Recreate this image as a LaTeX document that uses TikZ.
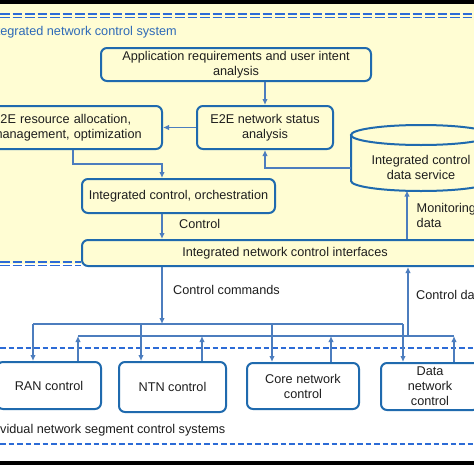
\documentclass[tikz,border=0pt]{standalone}
\usepackage{fontspec}
\setmainfont{Liberation Sans}
\usetikzlibrary{arrows.meta,calc}
\definecolor{ylw}{HTML}{FFFDD3}
\definecolor{bord}{HTML}{1F6AAE}
\definecolor{connc}{HTML}{4C7DBE}
\definecolor{dashc}{HTML}{2C6BD6}
\definecolor{ttl}{HTML}{2E6AB8}
\definecolor{txt}{HTML}{1E1E1E}
\begin{document}
\begin{tikzpicture}[x=1pt,y=-1pt,
  every node/.style={font=\fontsize{12.7}{15}\selectfont, text=txt},
  box/.style={draw=bord, line width=2pt, rounded corners=6pt, fill=ylw, align=center, inner sep=0pt},
  sbox/.style={box, fill=white},
  lbl/.style={anchor=west, inner sep=0pt, align=left},
  wire/.style={draw=connc, line width=1.5pt},
  arr/.style={wire, -{Latex[length=6pt,width=5.5pt]}},
  ddash/.style={draw=dashc, line width=1.4pt, dash pattern=on 9.5pt off 3pt},
  sdash/.style={draw=dashc, line width=1.8pt, dash pattern=on 5.5pt off 3pt}]
\useasboundingbox (0,0) rectangle (474,474);
\clip (0,0) rectangle (474,474);
\fill[white] (0,0) rectangle (474,474);
\fill[ylw] (0,3.5) rectangle (474,264);
\fill[black] (0,0) rectangle (474,3.5);
\fill[black] (0,461) rectangle (474,464.5);
% top double dashed border
\draw[ddash] (0,14) -- (474,14);
\draw[ddash] (0,17.5) -- (474,17.5);
% single dashed lines
\draw[sdash] (0,348) -- (474,348);
\draw[sdash] (0,444) -- (474,444);
% titles
\node[lbl, text=ttl] (title) at (-14,32) {Integrated network control system};
\node[lbl] (segtitle) at (-20.5,430) {Individual network segment control systems};
% upper boxes
\node[box, minimum width=270pt, minimum height=33pt] (app) at (236,64.5) {Application requirements and user intent\\analysis};
\node[box, minimum width=136pt, minimum height=43pt] (status) at (265,127.5) {E2E network status\\analysis};
\node[box, anchor=east, align=left, text width=162pt, inner xsep=8pt, minimum height=43pt] (res) at (163,127.5) {E2E resource allocation,\\management, optimization};
\node[box, minimum width=193pt, minimum height=34pt] (orch) at (178.5,196) {Integrated control, orchestration};
\node[box, minimum width=406pt, minimum height=26pt] (iface) at (285,253) {Integrated network control interfaces};
% lower double dashed border
\draw[ddash] (0,262) -- (iface.west |- 0,262);
\draw[ddash] (0,265.5) -- (iface.west |- 0,265.5);
% cylinder
\path[fill=ylw, draw=bord, line width=2pt] (351,135) -- (351,181) arc[start angle=180, end angle=0, x radius=70, y radius=10] -- (491,135) -- cycle;
\draw[fill=ylw, draw=bord, line width=2pt] (421,135) ellipse [x radius=70, y radius=10];
\node[minimum width=140pt, align=center, inner sep=0pt] (cyl) at (421,167) {Integrated control\\data service};
\coordinate (cylb) at (407,190.5);
% upper connectors
\draw[arr] (app.south -| status.north) -- (status.north);
\draw[arr] (status.west) -- (res.east);
\coordinate (oj) at ([xshift=-16.5pt]orch.north);
\coordinate (os) at ([xshift=-16.5pt]orch.south);
\draw[arr] (res.south) -- ++(0,14) -| (oj);
\draw[arr] ([yshift=-1pt]cyl.west) -| (status.south);
\draw[arr] (os) -- (os |- iface.north);
\node[lbl] (lctl) at (179,224) {Control};
\draw[arr] (iface.north -| cylb) -- (cylb);
\node[lbl] (lmon) at (416.5,215) {Monitoring\\data};
% lower boxes
\node[sbox, minimum width=104pt, minimum height=47pt] (ran) at (49,385.5) {RAN control};
\node[sbox, minimum width=107pt, minimum height=50pt] (ntn) at (172.5,387) {NTN control};
\node[sbox, minimum width=112pt, minimum height=46pt] (core) at (303,386) {Core network\\control};
\node[sbox, minimum width=98pt, minimum height=47pt] (data) at (430,386.5) {Data\\network\\control};
% buses
\coordinate (db) at (0,324);
\coordinate (ub) at (0,336);
\draw[arr] (iface.south -| os) -- (os |- db);
\node[lbl] (lcmd) at (173,290) {Control commands};
\coordinate (d1) at ([xshift=-16pt]ran.north);
\coordinate (d2) at ([xshift=-31.5pt]ntn.north);
\coordinate (d3) at ([xshift=-31pt]core.north);
\coordinate (d4) at ([xshift=-27pt]data.north);
\coordinate (u1) at ([xshift=29pt]ran.north);
\coordinate (u2) at ([xshift=29.5pt]ntn.north);
\coordinate (u3) at ([xshift=28pt]core.north);
\coordinate (u4) at ([xshift=24pt]data.north);
\draw[wire] (d1 |- db) -- (d4 |- db);
\draw[wire] (u1 |- ub) -- (u4 |- ub);
\foreach \d in {d1,d2,d3,d4} \draw[arr] (\d |- db) -- (\d);
\foreach \u in {u1,u2,u3,u4} \draw[arr] (\u) -- (\u |- ub);
\coordinate (ur) at (408,336);
\draw[arr] (ur) -- (iface.south -| ur);
\node[lbl] (ldat) at (416,295) {Control data};
\end{tikzpicture}
\end{document}
